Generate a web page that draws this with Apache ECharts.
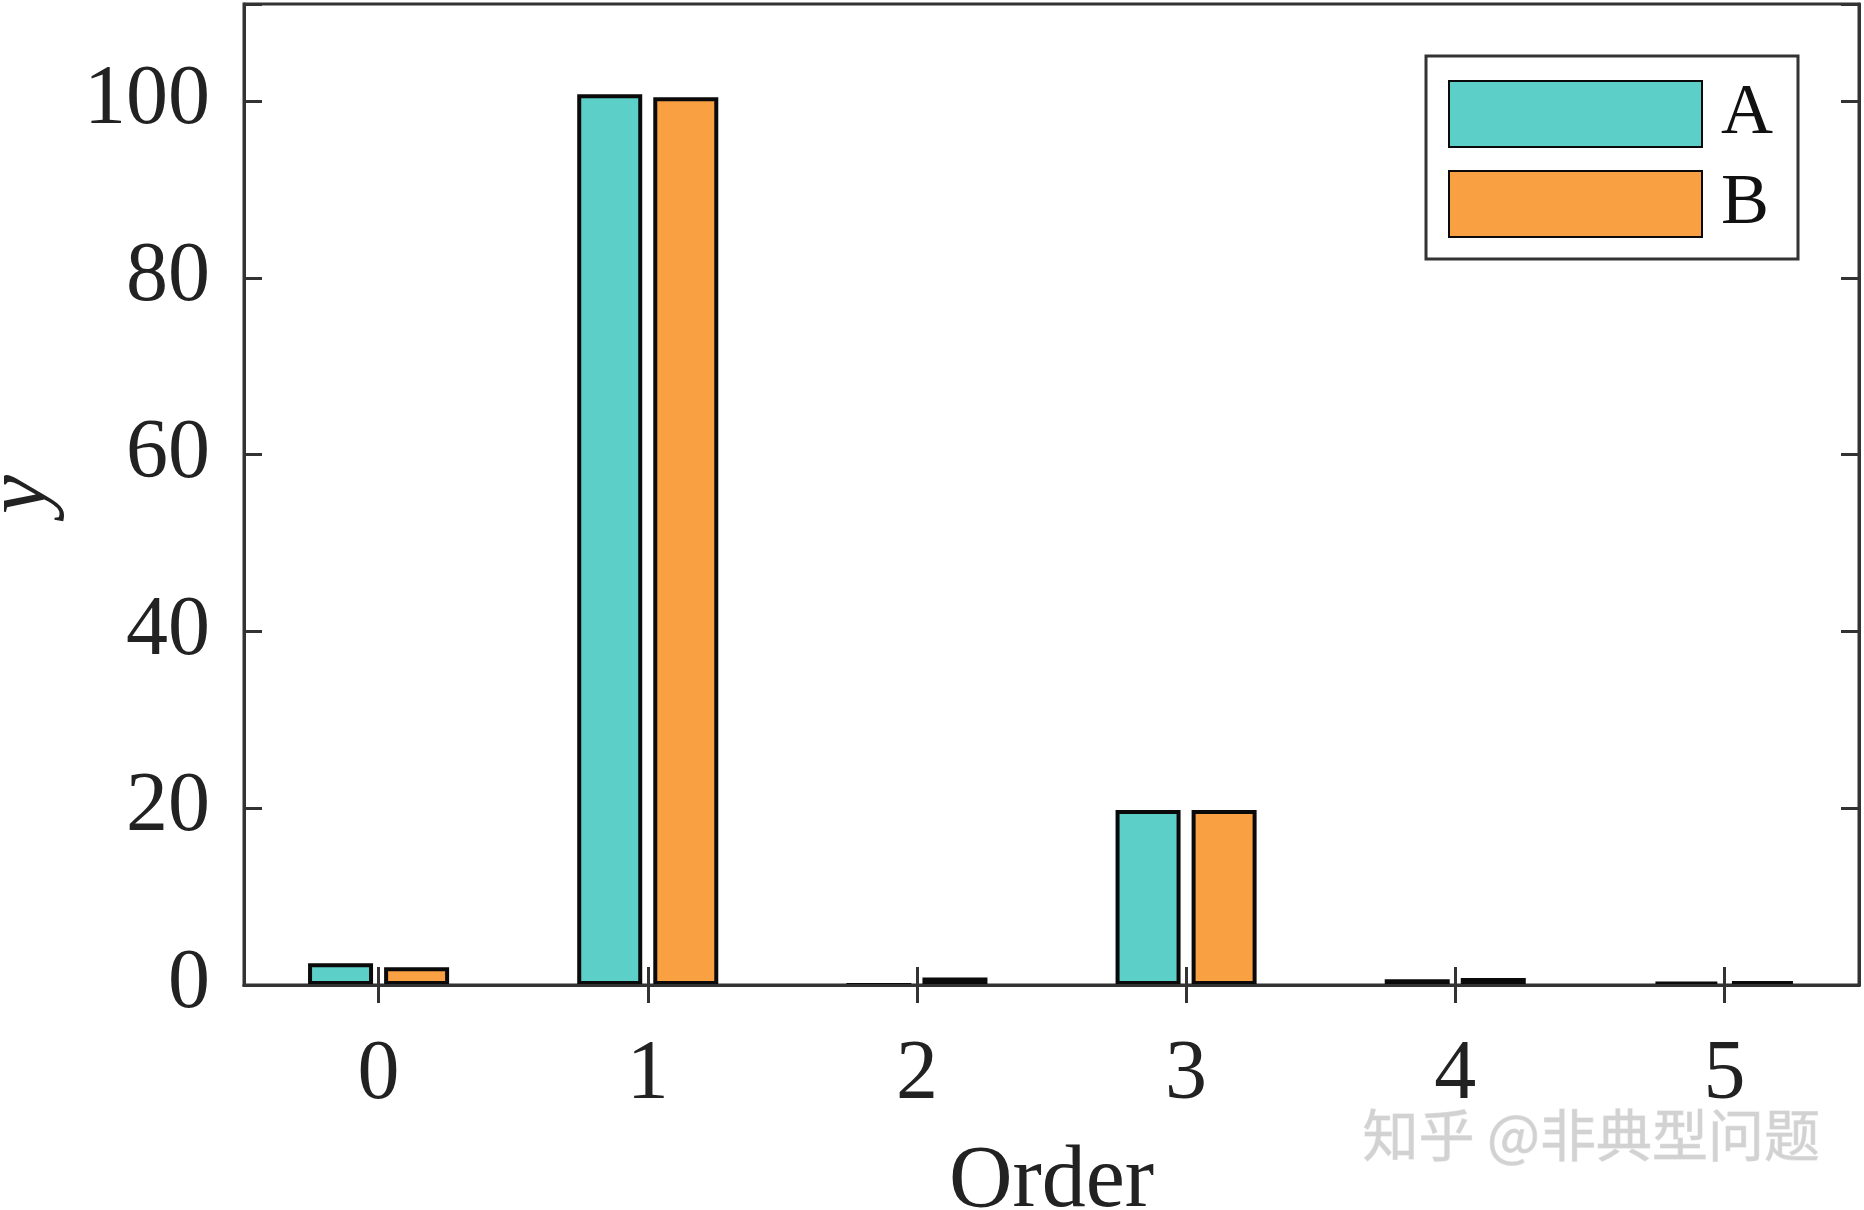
<!DOCTYPE html>
<html>
<head>
<meta charset="utf-8">
<script src="https://cdn.jsdelivr.net/npm/echarts@6/dist/echarts.min.js"></script>
<style>
html,body{margin:0;padding:0;background:#fff;}
#chart{width:1864px;height:1210px;}
</style>
</head>
<body>
<div id="chart"></div>
<script>
var categories = ['0', '1', '2', '3', '4', '5'];
var seriesA = [2.45, 100.8, 0, 19.8, 0.65, 0.35];
var seriesB = [2.0, 100.45, 0.85, 19.8, 0.8, 0.45];
var seriesNames = ['A', 'B'];
var yTicks = [0, 20, 40, 60, 80, 100];

var FONT = '"Liberation Serif", "Times New Roman", serif';
var AX = '#333333';

var chart = echarts.init(document.getElementById('chart'));
var option = {
  backgroundColor: '#ffffff',
  animation: false,
  grid: {
    left: 244, right: 5, top: 4, bottom: 225,
    show: true, borderColor: AX, borderWidth: 3,
    containLabel: false, outerBoundsMode: 'none'
  },
  legend: {
    data: seriesNames,
    orient: 'vertical',
    right: 1864 - 1798,
    top: 56,
    padding: [22, 25, 19, 22],
    borderColor: AX,
    borderWidth: 3,
    borderRadius: 0,
    backgroundColor: '#fff',
    itemWidth: 253,
    itemHeight: 66,
    itemGap: 18,
    icon: 'rect',
    textStyle: { fontFamily: FONT, fontSize: 72, color: '#111', padding: [16, 0, 0, 14] }
  },
  xAxis: [{
    type: 'category',
    data: categories,
    position: 'bottom',
    z: 5,
    axisLine: { show: true, lineStyle: { color: AX, width: 3 } },
    axisTick: { show: true, inside: true, alignWithLabel: true, length: 18, lineStyle: { color: AX, width: 3 } },
    axisLabel: { fontFamily: FONT, fontSize: 84, color: '#222', margin: 49 },
    name: 'Order',
    nameLocation: 'middle',
    nameGap: 154,
    nameTextStyle: { fontFamily: FONT, fontSize: 88, color: '#222' },
    splitLine: { show: false }
  }, {
    type: 'category',
    data: categories,
    position: 'top',
    axisLine: { show: true, lineStyle: { color: AX, width: 3 } },
    axisTick: { show: true, inside: true, alignWithLabel: true, length: 18, lineStyle: { color: AX, width: 3 } },
    axisLabel: { show: false },
    splitLine: { show: false }
  }],
  yAxis: [{
    type: 'value',
    min: 0, max: 111, interval: 20,
    position: 'left',
    axisLine: { show: true, lineStyle: { color: AX, width: 3 } },
    axisTick: { show: true, inside: true, length: 18, lineStyle: { color: AX, width: 3 } },
    axisLabel: {
      fontFamily: FONT, fontSize: 84, color: '#222', margin: 34,
      padding: [12, 0, 0, 0],
      formatter: function (v) { return yTicks.indexOf(v) >= 0 ? String(v) : ''; }
    },
    splitLine: { show: false },
    name: 'y',
    nameLocation: 'middle',
    nameGap: 178,
    nameRotate: 90,
    nameTextStyle: { fontFamily: FONT, fontStyle: 'italic', fontSize: 88, color: '#222' }
  }, {
    type: 'value',
    min: 0, max: 111, interval: 20,
    position: 'right',
    axisLine: { show: true, lineStyle: { color: AX, width: 3 } },
    axisTick: { show: true, inside: true, length: 18, lineStyle: { color: AX, width: 3 } },
    axisLabel: { show: false },
    splitLine: { show: false }
  }],
  series: [{
    name: seriesNames[0],
    type: 'bar',
    data: seriesA,
    barWidth: 65,
    barGap: '17%',
    itemStyle: { color: '#5CCFC9', borderColor: '#0a0a0a', borderWidth: 4 }
  }, {
    name: seriesNames[1],
    type: 'bar',
    data: seriesB,
    barWidth: 65,
    barGap: '17%',
    itemStyle: { color: '#F9A043', borderColor: '#0a0a0a', borderWidth: 4 }
  }],
  graphic: [{
    type: 'text',
    left: 1362,
    top: 1106,
    style: {
      text: '知乎 @非典型问题',
      fontFamily: '"Noto Sans CJK SC", sans-serif',
      fontSize: 56,
      fill: '#d2d2d2',
      stroke: '#e4e4e4',
      lineWidth: 1
    }
  }]
};
chart.setOption(option);
</script>
</body>
</html>
